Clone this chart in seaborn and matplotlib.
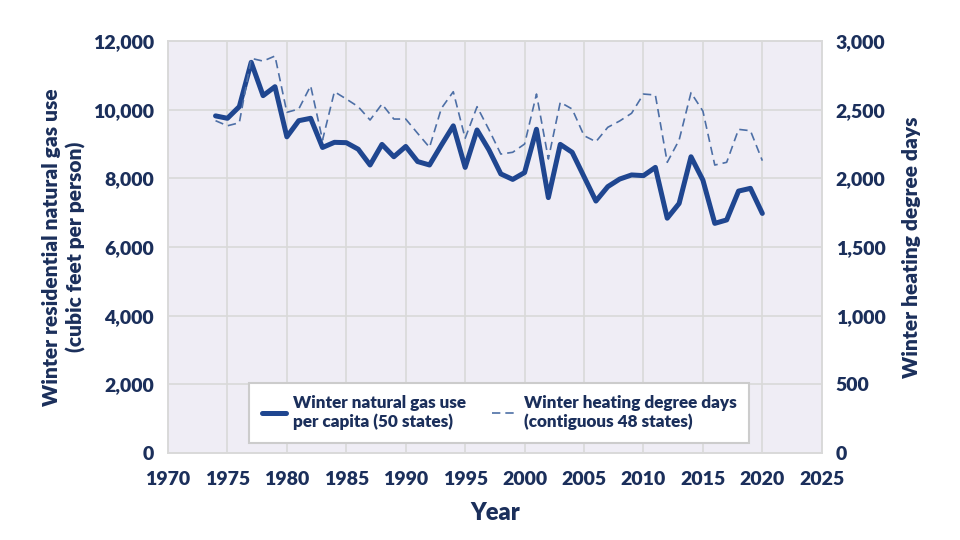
import matplotlib

matplotlib.use('Agg')
import matplotlib.pyplot as plt
import seaborn as sns
import pandas as pd

years = list(range(1974, 2021))

# winter natural gas use per capita, cubic feet per person (left axis)
gas_use = [
    9820, 9750, 10090, 11380, 10410, 10670, 9210, 9680, 9750, 8900,
    9050, 9040, 8850, 8390, 8990, 8630, 8930, 8490, 8390, 8970,
    9530, 8320, 9410, 8830, 8130, 7970, 8170, 9430, 7440, 8990,
    8760, 8050, 7340, 7760, 7980, 8100, 8080, 8320, 6840, 7270,
    8630, 7950, 6690, 6790, 7630, 7710, 6980,
]

# winter heating degree days (right axis)
hdd = [
    2420, 2383, 2405, 2874, 2854, 2891, 2481, 2505, 2674, 2279,
    2631, 2578, 2522, 2425, 2541, 2432, 2432, 2328, 2226, 2510,
    2631, 2292, 2522, 2355, 2177, 2190, 2250, 2614, 2141, 2554,
    2505, 2311, 2267, 2372, 2418, 2474, 2614, 2607, 2117, 2279,
    2624, 2490, 2097, 2117, 2357, 2347, 2129,
]

gas_label = "Winter natural gas use\nper capita (50 states)"
hdd_label = "Winter heating degree days\n(contiguous 48 states)"

x_ticks = list(range(1970, 2030, 5))
left_ticks = list(range(0, 14000, 2000))
right_ticks = list(range(0, 3500, 500))

text_color = "#1b2f5b"
gas_color = "#1f4690"
hdd_color = "#4d6fa6"
grid_color = "#d9d9d9"

sns.set_theme(style="darkgrid", rc={
    "axes.facecolor": "#efedf5",
    "axes.edgecolor": grid_color,
    "grid.color": grid_color,
    "grid.linewidth": 1.2,
})
plt.rcParams['font.family'] = ['Lato', 'DejaVu Sans']

df = pd.DataFrame({"year": years, "gas": gas_use, "hdd": hdd})

fig = plt.figure(figsize=(9.6, 5.4), dpi=100)
ax = fig.add_axes([0.175, 0.161, 0.681, 0.763])
ax2 = ax.twinx()

sns.lineplot(data=df, x="year", y="gas", ax=ax, color=gas_color,
             linewidth=3.6, label=gas_label, legend=False)
sns.lineplot(data=df, x="year", y="hdd", ax=ax2, color=hdd_color,
             linewidth=1.2, linestyle=(0, (5, 3)), label=hdd_label,
             legend=False)

ax.set_xlim(1970, 2025)
ax.set_ylim(0, 12000)
ax2.set_ylim(0, 3000)
ax.set_xticks(x_ticks)
ax.set_yticks(left_ticks)
ax2.set_yticks(right_ticks)
ax.set_yticklabels([f"{v:,}" for v in left_ticks])
ax2.set_yticklabels([f"{v:,}" for v in right_ticks])
ax2.grid(False)

for a in (ax, ax2):
    a.tick_params(axis="y", length=0, labelsize=14, labelcolor=text_color,
                  pad=10)
    a.tick_params(axis="x", length=0, labelsize=14, labelcolor=text_color,
                  pad=13)
    for lbl in a.get_xticklabels() + a.get_yticklabels():
        lbl.set_fontweight("heavy")
    for sp in a.spines.values():
        sp.set_color(grid_color)
        sp.set_linewidth(1.2)

ax.set_xlabel("Year", fontsize=17, fontweight="heavy", color=text_color,
              labelpad=10)
ax.set_ylabel("Winter residential natural gas use\n(cubic feet per person)",
              fontsize=15, fontweight="heavy", color=text_color,
              labelpad=5, linespacing=1.3)
ax2.set_ylabel("Winter heating degree days", fontsize=15,
               fontweight="heavy", color=text_color, labelpad=12)

handles = ax.get_lines()[:1] + ax2.get_lines()[:1]
leg = ax2.legend(handles, [gas_label, hdd_label], loc="lower left",
                 bbox_to_anchor=(0.124, 0.025), borderaxespad=0, ncol=2,
                 fontsize=12.3, frameon=True, fancybox=False,
                 handlelength=1.4, handletextpad=0.45, columnspacing=1.5,
                 borderpad=0.75)
leg.get_frame().set_facecolor("white")
leg.get_frame().set_edgecolor("#cccccc")
leg.get_frame().set_linewidth(1.5)
leg.get_frame().set_alpha(1)
for t in leg.get_texts():
    t.set_color(text_color)
    t.set_fontweight("heavy")
    t.set_linespacing(1.15)

fig.savefig("out.png", dpi=100)
plt.close(fig)
